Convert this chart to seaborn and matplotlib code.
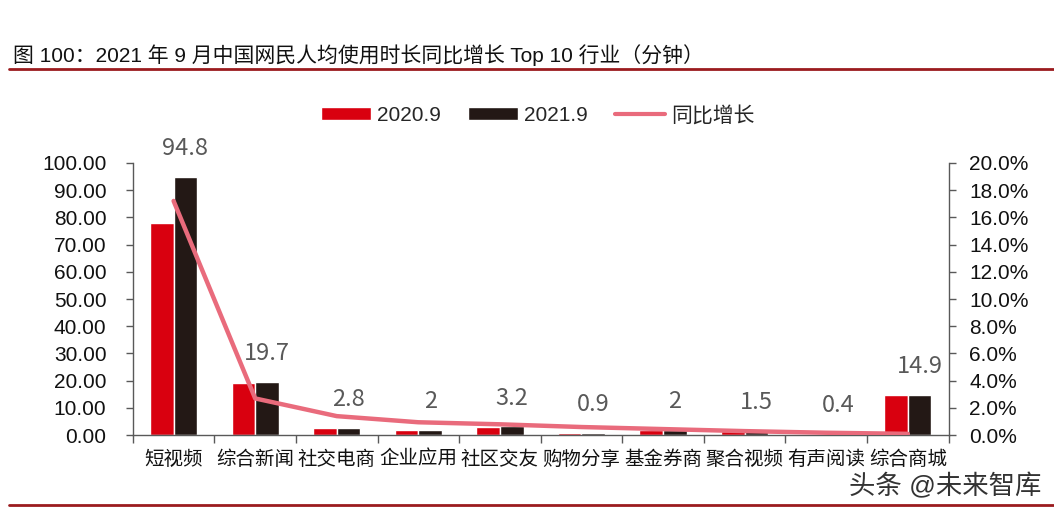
import numpy as np
import pandas as pd
import seaborn as sns
import matplotlib.pyplot as plt
from matplotlib.lines import Line2D
from matplotlib.patches import Patch
from matplotlib.ticker import FormatStrFormatter

# Data
categories = ["短视频", "综合新闻", "社交电商", "企业应用", "社区交友",
              "购物分享", "基金券商", "聚合视频", "有声阅读", "综合商城"]
minutes_2020 = [78.0, 19.0, 2.7, 1.9, 3.0, 0.8, 1.9, 1.4, 0.3, 14.8]
minutes_2021 = [94.8, 19.7, 2.8, 2.0, 3.2, 0.9, 2.0, 1.5, 0.4, 14.9]
growth_pct = [17.2, 2.7, 1.4, 0.95, 0.8, 0.6, 0.45, 0.3, 0.18, 0.1]
series_names = ["2020.9", "2021.9"]

RED = "#D9000F"
BLACK = "#231815"
PINK = "#E96B7C"
DARKRED = "#9B1B1E"
AXIS = "#595959"

sns.set_theme(style="white")
plt.rcParams["font.family"] = ["Liberation Sans", "Noto Sans CJK SC"]
plt.rcParams["axes.unicode_minus"] = False

df = pd.DataFrame({
    "行业": categories * 2,
    "时长": minutes_2020 + minutes_2021,
    "期间": [series_names[0]] * len(categories) + [series_names[1]] * len(categories),
})

fig = plt.figure(figsize=(10.54, 5.12), dpi=100)
ax = fig.add_axes([0.126, 0.150, 0.774, 0.532])

sns.barplot(data=df, x="行业", y="时长", hue="期间", order=categories,
            hue_order=series_names, palette=[RED, BLACK], width=0.58,
            saturation=1, legend=False, ax=ax)

ax.set_xlim(-0.5, len(categories) - 0.5)
ax.set_ylim(0, 100)
ax.set_yticks(np.arange(0, 101, 10))
ax.yaxis.set_major_formatter(FormatStrFormatter("%.2f"))
ax.set_xlabel("")
ax.set_ylabel("")

# value labels above the 2021.9 bars
for i, v in enumerate(minutes_2021):
    ax.annotate(f"{v:g}", xy=(i + 0.145, v), xytext=(0, 12), textcoords="offset points",
                ha="center", va="bottom", fontsize=17, color="#595959",
                family=["Noto Sans CJK SC"], fontweight="light")

ax2 = ax.twinx()
sns.lineplot(x=np.arange(len(categories)), y=growth_pct, color=PINK, linewidth=3.2,
             ax=ax2)
ax2.set_ylim(0, 20)
ax2.set_yticks(np.arange(0, 20.1, 2))
ax2.yaxis.set_major_formatter(FormatStrFormatter("%.1f%%"))
ax2.set_ylabel("")

for a in (ax, ax2):
    a.spines["top"].set_visible(False)
    for s in ("left", "right", "bottom"):
        a.spines[s].set_color(AXIS)
        a.spines[s].set_linewidth(1)
ax.spines["right"].set_visible(False)
ax2.spines["left"].set_visible(False)
ax2.spines["bottom"].set_visible(False)

ax.tick_params(axis="y", which="major", length=5, width=1, color=AXIS, direction="out",
               pad=14, labelsize=15, labelcolor="#111111", left=True)
ax2.tick_params(axis="y", which="major", length=5, width=1, color=AXIS, direction="out",
                pad=10, labelsize=15, labelcolor="#111111", right=True)
ax.tick_params(axis="x", which="major", length=0, pad=11, labelsize=14, labelcolor="#111111")
ax.set_xticks(np.arange(-0.5, len(categories), 1), minor=True)
ax.tick_params(axis="x", which="minor", length=6, width=1, color=AXIS, direction="out",
               bottom=True)

handles = [Patch(facecolor=RED, label=series_names[0]),
           Patch(facecolor=BLACK, label=series_names[1]),
           Line2D([0], [0], color=PINK, lw=3, label="同比增长")]
fig.legend(handles=handles, loc="center", bbox_to_anchor=(0.51, 0.775), ncol=3,
           frameon=False, fontsize=15, handlelength=2.4, handleheight=0.6,
           handletextpad=0.3, columnspacing=1.3)

fig.text(0.012, 0.893, "图 100：2021 年 9 月中国网民人均使用时长同比增长 Top 10 行业（分钟）",
         ha="left", va="center", fontsize=15, color="#111111")
fig.add_artist(Line2D([0.009, 1.0], [0.866, 0.866], color=DARKRED, lw=2))
fig.add_artist(Line2D([0.009, 1.0], [0.014, 0.014], color=DARKRED, lw=2))
fig.text(0.988, 0.05, "头条 @未来智库", ha="right", va="center", fontsize=19,
         color="#333333")

fig.savefig("out.png", dpi=100)
